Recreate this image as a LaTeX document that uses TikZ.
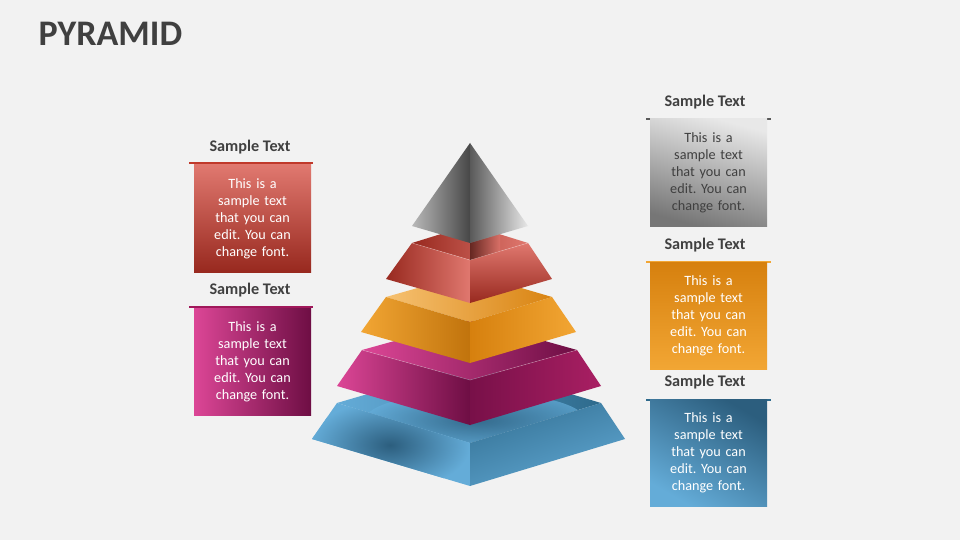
\documentclass[tikz,border=0pt]{standalone}
\usepackage{fontspec}
\setmainfont{Carlito}
\frenchspacing
\begin{document}
\begin{tikzpicture}[x=1pt,y=-1pt,
  head/.style={font=\bfseries\fontsize{16.2}{19}\selectfont, text=txtgray, inner sep=0pt},
  body/.style={font=\fontsize{14.2}{17}\selectfont, text=white, align=center, inner sep=0pt,
    minimum width=117pt, minimum height=107pt, text width=110pt},
  rule/.style={line width=2pt},
  edge/.style={draw=white, draw opacity=0.35, line width=0.5pt}
]
\definecolor{bg}{HTML}{F2F2F2}
\definecolor{txtgray}{HTML}{404040}
\definecolor{redA}{HTML}{E0786F}
\definecolor{redB}{HTML}{C0392B}
\definecolor{redC}{HTML}{98291F}
\definecolor{magA}{HTML}{DC4696}
\definecolor{magB}{HTML}{6E0E44}
\definecolor{magC}{HTML}{A0185A}
\definecolor{oraA}{HTML}{F2A634}
\definecolor{oraB}{HTML}{D6800E}
\definecolor{bluA}{HTML}{64ACD8}
\definecolor{bluB}{HTML}{2C5E7E}
\definecolor{bluC}{HTML}{2E6A8C}
\definecolor{gryA}{HTML}{E8E8E8}
\definecolor{gryB}{HTML}{767676}
\definecolor{gryC}{HTML}{595959}

\fill[bg] (0,0) rectangle (960,540);
\useasboundingbox (0,0) rectangle (960,540);

% title
\node[anchor=base west, inner sep=0pt, text=txtgray, font=\bfseries\fontsize{36}{40}\selectfont] (title) at (38.5,46) {PYRAMID};

% ---------- pyramid ----------
% blue layer
\shade[left color=bluA, right color=bluC] (337,403) -- (470,364) -- (601,403) -- (470,443) -- cycle;
\begin{scope}
  \clip (337,403) -- (470,364) -- (601,403) -- (470,443) -- cycle;
  \shade[inner color=bluB, outer color=bluA, opacity=0.7] (475,420) ellipse (110 and 28);
\end{scope}
\begin{scope}
  \clip (312,439) -- (337,403) -- (470,443) -- (470,486) -- cycle;
  \fill[bluA] (312,393) rectangle (470,486);
  \shade[inner color=bluB, outer color=bluA] (390,445) ellipse (80 and 45);
\end{scope}
\shade[top color=bluC!85!bluA, bottom color=bluA!90!bluC, shading angle=20] (470,443) -- (601,403) -- (625,439) -- (470,486) -- cycle;

% magenta layer
\shade[left color=magA, right color=magB] (362,350) -- (470,320) -- (577,350) -- (470,380) -- cycle;
\shade[left color=magA, right color=magB] (337,386) -- (362,350) -- (470,380) -- (470,425) -- cycle;
\shade[left color=magB!80!magC, right color=magC!85!magA] (470,380) -- (577,350) -- (601,386) -- (470,425) -- cycle;
\draw[edge] (362,350) -- (470,380) -- (577,350);

% orange layer
\shade[left color=oraA!70!white, right color=oraB!90!oraA] (386,297) -- (470,273) -- (552,297) -- (470,322) -- cycle;
\shade[left color=oraA, right color=oraB!90!black] (361,332) -- (386,297) -- (470,322) -- (470,363) -- cycle;
\shade[left color=oraB, right color=oraA] (470,322) -- (552,297) -- (576,332) -- (470,363) -- cycle;

% red layer
\shade[left color=redC, right color=redA] (412,243) -- (470,225) -- (528,243) -- (470,260) -- cycle;
\shade[left color=redC, middle color=redB, right color=redA] (386,279) -- (412,243) -- (470,260) -- (470,303) -- cycle;
\shade[top color=redA, middle color=redB, bottom color=redC] (470,260) -- (528,243) -- (552,279) -- (470,303) -- cycle;
\draw[edge] (412,243) -- (470,260) -- (528,243);
\shade[left color=black!70!redC, right color=redA, opacity=0.6] (470,243) -- (500,234) -- (500,251) -- (470,260) -- cycle;

% gray top
\shade[left color=gray!55, right color=black!72] (412,226) -- (470,143) -- (470,243) -- cycle;
\shade[left color=black!65, right color=gryA] (470,143) -- (528,226) -- (470,243) -- cycle;

% ---------- text boxes ----------
% left red
\node[head] (h1) at (250,147) {Sample Text};
\draw[rule, draw=redB] (189,163.5) -- (313,163.5);
\node[body, shade, top color=redA, middle color=redB, bottom color=redC] (b1) at (252.5,218.5)
  {This is a\\sample text\\that you can\\edit. You can\\change font.};

% left magenta
\node[head] (h2) at (250,290) {Sample Text};
\draw[rule, draw=magC] (189,307) -- (313,307);
\node[body, shade, left color=magA, right color=magB] (b2) at (252.5,361.5)
  {This is a\\sample text\\that you can\\edit. You can\\change font.};

% right gray
\node[head] (h3) at (705,102) {Sample Text};
\draw[rule, draw=gryC] (646,119) -- (771,119);
\node[body, shade, top color=gryA, bottom color=gryB, shading angle=-15, text=txtgray] (b3) at (708.5,172.5)
  {This is a\\sample text\\that you can\\edit. You can\\change font.};

% right orange
\node[head] (h4) at (705,245) {Sample Text};
\draw[rule, draw=oraA] (646,262) -- (771,262);
\node[body, shade, top color=oraB, bottom color=oraA] (b4) at (708.5,315.5)
  {This is a\\sample text\\that you can\\edit. You can\\change font.};

% right blue
\node[head] (h5) at (705,382) {Sample Text};
\draw[rule, draw=bluC] (646,399.5) -- (771,399.5);
\node[body, shade, top color=bluB, bottom color=bluA, shading angle=-30] (b5) at (708.5,453)
  {This is a\\sample text\\that you can\\edit. You can\\change font.};
\end{tikzpicture}
\end{document}
